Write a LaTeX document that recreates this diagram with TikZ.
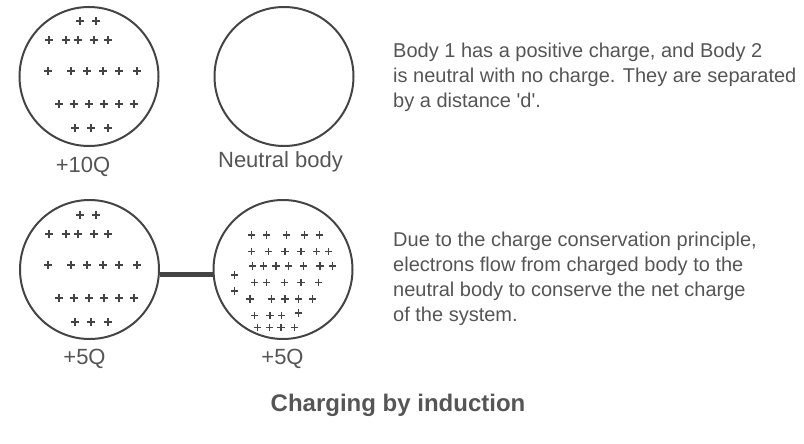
\documentclass[tikz,border=0pt]{standalone}
\usepackage{fontspec}
\setmainfont{Liberation Sans}
\definecolor{linec}{HTML}{444444}
\definecolor{textc}{HTML}{555555}
\begin{document}
\begin{tikzpicture}[x=1pt,y=-1pt,
  body/.style={circle,draw=linec,line width=2pt,minimum size=139pt,inner sep=0pt},
  lbl/.style={text=textc,inner sep=0pt,anchor=base,font=\fontsize{22}{26}\selectfont},
  txt/.style={text=textc,inner sep=0pt,anchor=base west,font=\fontsize{20}{25}\selectfont},
  plus/.pic={\draw[linec,line width=1.4pt] (-3.6,0) -- (3.6,0) (0,-3.6) -- (0,3.6);}]
\useasboundingbox (0,0) rectangle (804,444);
% bodies
\node[body] (tl) at (89,76.5) {};
\node[body] (tr) at (284,76.5) {};
\node[body] (bl) at (89.5,269.5) {};
\node[body] (br) at (283,269.5) {};
% connector
\draw[linec,line width=5pt] (bl.-4) -- (br.184);
% charges
\foreach \x/\y in {80/21,96/21,
  49/40,66/40,78/40,94/40,108/40,
  48/71,71/71,87/71,103/71,119/71,137/71,
  59/104,74/104,89/104,104/104,119/104,134/104,
  75/128,91/128,108/128}{
  \pic at (\x,\y) {plus};
  \pic at (\x,\y+194) {plus};
}
\foreach \x/\y in {251.7/235,266.7/235,286.7/235,304.3/235,319.3/235,
  251.7/251.7,268.3/251.7,285/251.7,301/251.7,316.7/251.7,328.3/251.7,
  252.3/266,263.3/266,276/266,288.3/266,303.3/266,320/266,332.3/266,
  234.3/275,234.3/291,
  254.3/282.3,266.7/282.3,284.3/282.3,301/282.3,318.3/282.3,
  250/299,271.7/299,285/299,298.3/299,312.7/299,
  254.3/315.7,270/315.7,281.7/315.7,298.3/313,
  257.7/327.3,269.3/327.3,281/327.3,294.3/327.3}{
  \pic at (\x,\y) {plus};
}
% labels
\node[lbl] (ltl) at (83,172.5) {+10Q};
\node[lbl] (ltr) at (280.5,167.3) {Neutral body};
\node[lbl] (lbl) at (84.5,364.3) {+5Q};
\node[lbl] (lbr) at (282.5,364.3) {+5Q};
% descriptions
\node[txt] (a1) at (393,57.3) {Body 1 has a positive charge, and Body 2};
\node[txt] (a2) at (393,82.3) {is neutral with no charge. They are separated};
\node[txt] (a3) at (393,107.3) {by a distance \textquotesingle d\textquotesingle.};
\node[txt] (b1) at (393,246.7) {Due to the charge conservation principle,};
\node[txt] (b2) at (393,271.7) {electrons flow from charged body to the};
\node[txt] (b3) at (393,296.7) {neutral body to conserve the net charge};
\node[txt] (b4) at (393,321.7) {of the system.};
% title
\node[text=textc,inner sep=0pt,anchor=base,font=\bfseries\fontsize{24}{28}\selectfont] (title) at (398,411.7) {Charging by induction};
\end{tikzpicture}
\end{document}
